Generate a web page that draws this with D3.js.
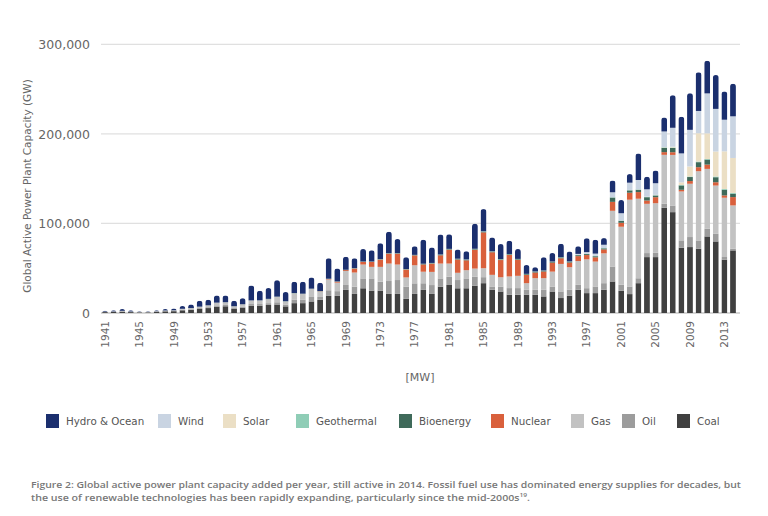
<!DOCTYPE html>
<html>
<head>
<meta charset="utf-8">
<script src="https://cdn.jsdelivr.net/npm/d3@7/dist/d3.min.js"></script>
<style>
  html, body { margin: 0; padding: 0; background: #ffffff; }
  svg { display: block; }
</style>
</head>
<body>
<svg id="chart" width="768" height="516"></svg>
<script>
// ---------------- DATA ----------------
const years = d3.range(1941, 2015).map(String);

const seriesNames = ["Coal", "Oil", "Gas", "Nuclear", "Bioenergy", "Geothermal", "Solar", "Wind", "Hydro & Ocean"];
const legendOrder = ["Hydro & Ocean", "Wind", "Solar", "Geothermal", "Bioenergy", "Nuclear", "Gas", "Oil", "Coal"];

const coal = [
  1000, 1200, 1500, 1000, 700, 700, 1300, 1800, 2000, 3000,
  3500, 4500, 5500, 7000, 7500, 4500, 6000, 8000, 8000, 9000,
  9500, 7400, 11000, 11000, 12900, 14700, 19100, 19100, 25800, 21300,
  27600, 25000, 25000, 21300, 21300, 15800, 21300, 25800, 21300, 29400,
  31300, 27600, 27600, 30500, 33300, 25900, 24000, 20400, 20400, 20400,
  20400, 18500, 24000, 16700, 19200, 25900, 22200, 22200, 25900, 35200,
  24800, 21100, 33300, 62400, 62400, 117500, 112600, 72900, 73600, 71700,
  85500, 79900, 59500, 69900
];
const oil = [
  200, 300, 300, 300, 200, 200, 300, 400, 400, 600,
  700, 1000, 1000, 1500, 1500, 1000, 1200, 2000, 2000, 2000,
  2500, 2000, 4000, 3700, 5000, 3200, 6300, 5300, 5500, 8100,
  11000, 13600, 9900, 14400, 15500, 13600, 11800, 7400, 9900, 9200,
  9200, 9200, 11000, 9900, 6700, 3700, 5500, 7400, 7400, 5500,
  5500, 7400, 5500, 7400, 6700, 5500, 5500, 7400, 7400, 16700,
  6700, 8500, 5500, 4500, 4800, 4500, 7400, 8200, 11200, 9300,
  8500, 8500, 3000, 1900
];
const gas = [
  300, 300, 600, 400, 300, 300, 400, 600, 600, 1000,
  1300, 1500, 2000, 3000, 3000, 2000, 2500, 4000, 4000, 4500,
  6000, 3500, 7000, 6600, 9000, 6000, 12000, 9500, 15600, 15800,
  15500, 12900, 16600, 19500, 17300, 10300, 20200, 12900, 14700, 16600,
  14700, 8100, 9200, 9200, 10000, 13000, 10400, 13000, 13700, 7400,
  13000, 13000, 16700, 30700, 25200, 26600, 32200, 27800, 33300, 62200,
  64800, 96900, 88800, 55000, 55400, 54600, 56500, 54600, 59500, 77300,
  66900, 53900, 66200, 48300
];
const nuclear = [
  0, 0, 0, 0, 0, 0, 0, 0, 0, 0,
  0, 0, 0, 0, 0, 0, 0, 0, 0, 0,
  0, 0, 0, 0, 0, 300, 500, 1000, 1000, 4400,
  2900, 5500, 8100, 11000, 12100, 8800, 11000, 8100, 9200, 9200,
  15500, 14700, 11000, 21000, 40000, 25200, 19200, 24000, 17800, 9200,
  6300, 7400, 10000, 6300, 5200, 5500, 4800, 4800, 4400, 10000,
  4400, 7800, 7400, 3700, 6700, 3000, 3000, 1900, 3000, 4500,
  4800, 3700, 2600, 9300
];
const bioenergy = [
  50, 50, 50, 50, 50, 50, 50, 50, 50, 100,
  100, 100, 100, 100, 100, 100, 100, 100, 100, 200,
  200, 200, 200, 200, 200, 200, 300, 300, 300, 300,
  300, 300, 400, 400, 400, 400, 400, 500, 500, 600,
  600, 600, 600, 700, 700, 700, 800, 800, 800, 900,
  900, 900, 1000, 1000, 1000, 1100, 1100, 1200, 1200, 4800,
  2200, 2600, 2600, 3700, 1900, 4800, 4800, 4800, 4500, 5600,
  5600, 5600, 6300, 3700
];
const geothermal = [
  0, 0, 0, 0, 0, 0, 0, 0, 0, 0,
  0, 0, 0, 0, 0, 0, 0, 0, 50, 100,
  100, 100, 100, 100, 100, 100, 100, 100, 100, 200,
  200, 200, 200, 200, 200, 200, 200, 300, 300, 300,
  300, 400, 400, 400, 500, 400, 400, 300, 300, 300,
  300, 300, 300, 300, 300, 300, 300, 300, 300, 400,
  400, 400, 400, 400, 400, 500, 500, 500, 600, 700,
  700, 800, 900, 1000
];
const solar = [
  0, 0, 0, 0, 0, 0, 0, 0, 0, 0,
  0, 0, 0, 0, 0, 0, 0, 0, 0, 0,
  0, 0, 0, 0, 0, 0, 0, 0, 0, 0,
  0, 0, 0, 0, 0, 0, 0, 0, 0, 0,
  0, 0, 0, 0, 0, 0, 0, 0, 0, 0,
  0, 0, 0, 0, 0, 0, 0, 0, 0, 0,
  0, 100, 100, 200, 300, 300, 800, 3000, 11200, 31600,
  28600, 27900, 42000, 39000
];
const wind = [
  0, 0, 0, 0, 0, 0, 0, 0, 0, 0,
  0, 0, 0, 0, 0, 0, 0, 0, 0, 0,
  0, 0, 0, 0, 0, 0, 0, 0, 0, 0,
  0, 0, 0, 0, 0, 0, 0, 0, 0, 0,
  0, 0, 0, 0, 0, 0, 0, 0, 0, 0,
  0, 0, 0, 0, 0, 1100, 1900, 2600, 3700, 5500,
  8100, 8100, 10400, 8200, 13000, 17500, 21200, 32300, 40900, 24900,
  44600, 47600, 35300, 46500
];
const hydro = [
  1000, 1200, 2000, 1300, 600, 600, 1000, 1600, 2000, 3100,
  4000, 6500, 6200, 8000, 7500, 6000, 6800, 16500, 10600, 12100,
  18400, 10300, 12500, 13200, 12500, 9200, 22800, 14400, 14400, 11000,
  14000, 12500, 17700, 23900, 15800, 13200, 9600, 26900, 17300, 22400,
  16200, 10300, 9200, 28000, 24800, 15500, 16700, 14800, 11100, 10000,
  4800, 14800, 9600, 14800, 11100, 8500, 15500, 15500, 7400, 13000,
  14800, 9600, 29600, 14100, 14100, 15600, 36400, 40900, 40900, 43100,
  36400, 37900, 31600, 36400
];

const yTicks = [0, 100000, 200000, 300000];
const xTickLabels = ["1941","1945","1949","1953","1957","1961","1965","1969","1973","1977","1981","1985","1989","1993","1997","2001","2005","2009","2013"];

const colors = {
  "Hydro & Ocean": "#1b2f6e",
  "Wind": "#c9d4e2",
  "Solar": "#ebdfc5",
  "Geothermal": "#8fcdb6",
  "Bioenergy": "#3f6a5a",
  "Nuclear": "#d9603c",
  "Gas": "#c2c2c2",
  "Oil": "#9c9c9c",
  "Coal": "#404040"
};

const seriesValues = {
  "Coal": coal, "Oil": oil, "Gas": gas, "Nuclear": nuclear, "Bioenergy": bioenergy,
  "Geothermal": geothermal, "Solar": solar, "Wind": wind, "Hydro & Ocean": hydro
};

// table for d3.stack
const table = years.map((y, i) => {
  const row = { year: y };
  seriesNames.forEach(s => row[s] = seriesValues[s][i]);
  return row;
});

// ---------------- LAYOUT ----------------
const svg = d3.select("#chart");
const fontMain = "'DejaVu Sans', sans-serif";

const x = d3.scaleBand().domain(years).range([100.7, 737.3]).paddingInner(0.32).paddingOuter(0.16);
const y = d3.scaleLinear().domain([0, 300000]).range([313, 44.3]);

// gridlines
svg.append("g").selectAll("line").data(yTicks).join("line")
  .attr("x1", 101).attr("x2", 740)
  .attr("y1", d => y(d)).attr("y2", d => y(d))
  .attr("stroke", d => d === 0 ? "#c8c8c8" : "#e0e0e0")
  .attr("stroke-width", 1.3);

// y axis labels
const yAxis = d3.axisLeft(y).tickValues(yTicks).tickFormat(d3.format(",")).tickSize(0).tickPadding(0);
const yg = svg.append("g").attr("transform", "translate(90,0)").call(yAxis);
yg.select(".domain").remove();
yg.selectAll("text").attr("font-family", fontMain).attr("font-size", 12.5)
  .attr("fill", "#666").attr("dy", "0.36em");

// x axis labels
const xAxis = d3.axisBottom(x).tickValues(xTickLabels).tickSize(0).tickPadding(0);
const xg = svg.append("g").attr("transform", "translate(0,321)").call(xAxis);
xg.select(".domain").remove();
xg.selectAll("text")
  .attr("font-family", fontMain).attr("font-size", 10.5).attr("fill", "#666")
  .attr("text-anchor", "end")
  .attr("transform", "rotate(-90)")
  .attr("x", 0).attr("y", 0).attr("dy", "0.35em");

// clip paths for rounded bar tops
const stack = d3.stack().keys(seriesNames);
const stacked = stack(table);
const totals = table.map(r => d3.sum(seriesNames, s => r[s]));
const bw = x.bandwidth();

const defs = svg.append("defs");
defs.selectAll("clipPath").data(years).join("clipPath")
  .attr("id", (d, i) => "clip" + i)
  .append("rect")
  .attr("x", d => x(d))
  .attr("width", bw)
  .attr("y", (d, i) => y(totals[i]))
  .attr("height", (d, i) => y(0) - y(totals[i]) + bw)
  .attr("rx", bw / 2).attr("ry", bw / 2);

const barsG = svg.append("g");
const perYear = barsG.selectAll("g.year").data(years).join("g")
  .attr("class", "year")
  .attr("clip-path", (d, i) => `url(#clip${i})`);

perYear.each(function(yr, i) {
  const g = d3.select(this);
  stacked.forEach(layer => {
    const seg = layer[i];
    if (seg[1] - seg[0] <= 0) return;
    g.append("rect")
      .attr("x", x(yr))
      .attr("width", bw)
      .attr("y", y(seg[1]))
      .attr("height", y(seg[0]) - y(seg[1]))
      .attr("fill", colors[layer.key]);
  });
});

// axis titles
svg.append("text")
  .attr("transform", "translate(27,186) rotate(-90)")
  .attr("text-anchor", "middle").attr("dy", "0.35em")
  .attr("font-family", fontMain).attr("font-size", 10.5).attr("fill", "#666")
  .text("Global Active Power Plant Capacity  (GW)");

svg.append("text")
  .attr("x", 420).attr("y", 381)
  .attr("text-anchor", "middle")
  .attr("font-family", fontMain).attr("font-size", 11).attr("fill", "#666")
  .text("[MW]");

// legend
const legendX = [46, 158, 223, 296, 399, 491, 571, 622, 677];
const lg = svg.append("g");
legendOrder.forEach((name, i) => {
  const g = lg.append("g").attr("transform", `translate(${legendX[i]},414)`);
  g.append("rect").attr("width", 13).attr("height", 14).attr("fill", colors[name]);
  g.append("text").attr("x", 20).attr("y", 7).attr("dy", "0.36em")
    .attr("font-family", fontMain).attr("font-size", 10.3).attr("fill", "#555")
    .text(name);
});

// caption
const cap = svg.append("g").attr("font-family", "'Open Sans', sans-serif")
  .attr("font-size", 9.6).attr("font-weight", 600).attr("fill", "#777");
cap.append("text").attr("x", 31).attr("y", 488)
  .attr("textLength", 710).attr("lengthAdjust", "spacingAndGlyphs")
  .text("Figure 2: Global active power plant capacity added per year, still active in 2014. Fossil fuel use has dominated energy supplies for decades, but");
const t2 = cap.append("text").attr("x", 31).attr("y", 500.5)
  .attr("textLength", 499).attr("lengthAdjust", "spacingAndGlyphs");
t2.append("tspan").text("the use of renewable technologies has been rapidly expanding, particularly since the mid-2000s");
t2.append("tspan").attr("font-size", 6).attr("dy", -3.5).text("19");
t2.append("tspan").attr("dy", 3.5).text(".");
</script>
</body>
</html>
